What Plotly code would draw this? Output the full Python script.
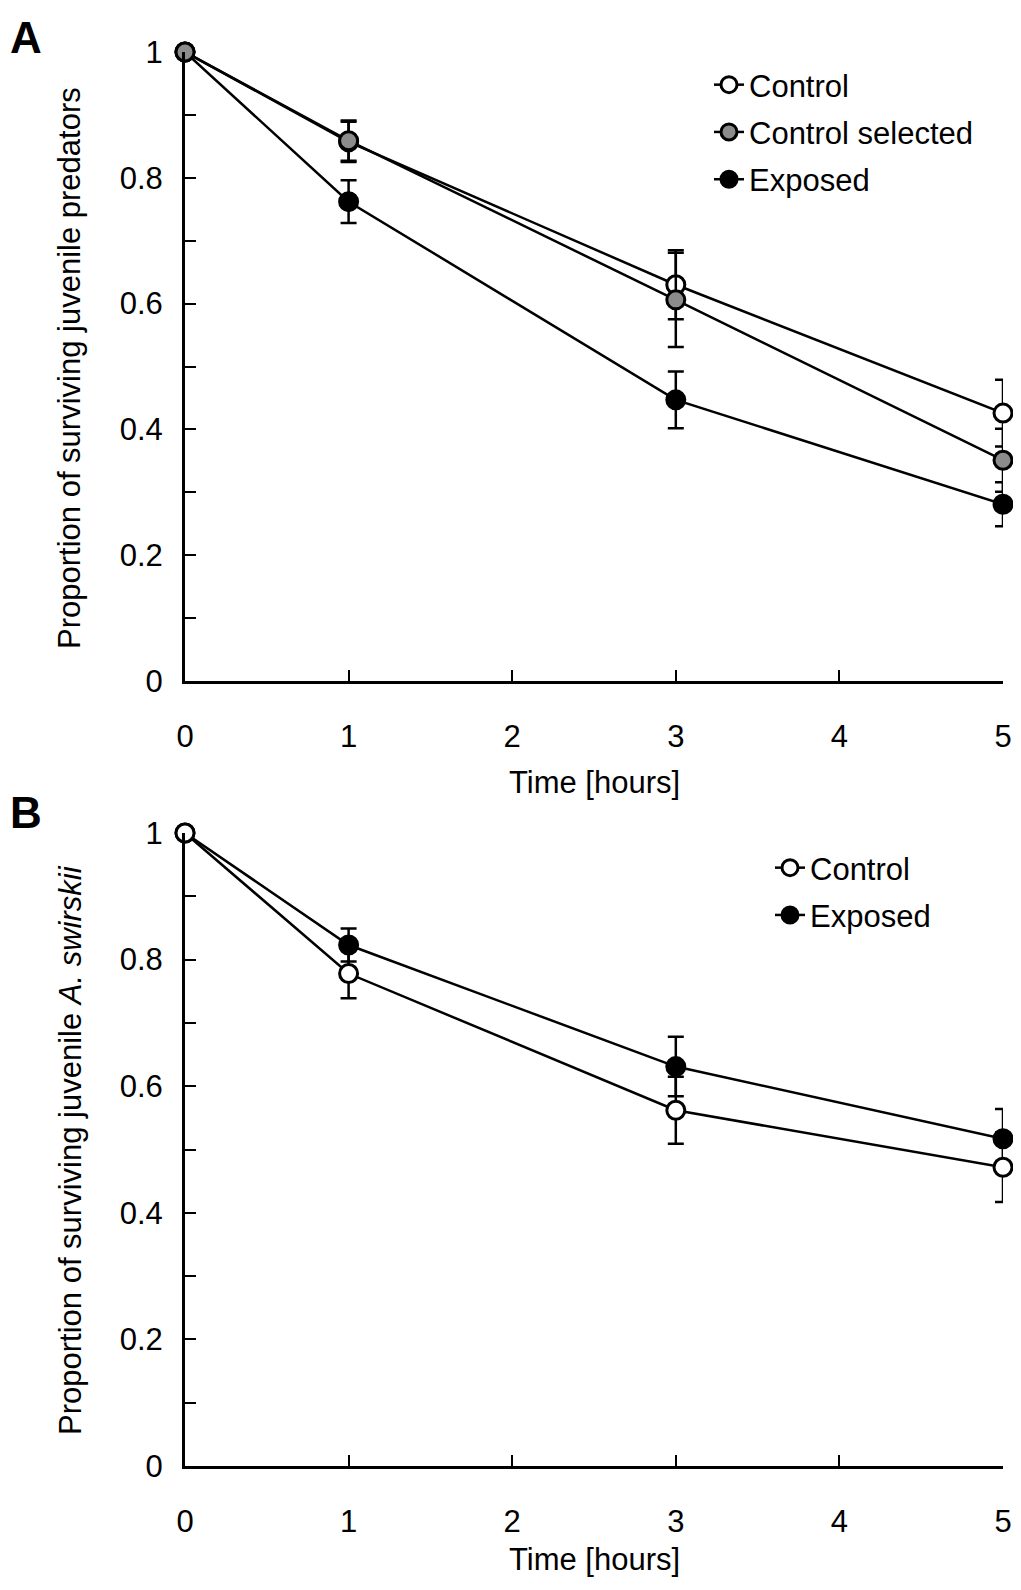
import plotly.graph_objects as go

# time points (hours)
hours = [0, 1, 3, 5]

# panel A: juvenile predators
a_control = [1.0, 0.857, 0.630, 0.426]
a_control_err = [0, 0.032, 0.055, 0.053]
a_selected = [1.0, 0.859, 0.606, 0.351]
a_selected_err = [0, 0.032, 0.075, 0.050]
a_exposed = [1.0, 0.762, 0.447, 0.281]
a_exposed_err = [0, 0.034, 0.045, 0.035]

# panel B: juvenile A. swirskii
b_control = [1.0, 0.778, 0.562, 0.472]
b_control_err = [0, 0.039, 0.053, 0.055]
b_exposed = [1.0, 0.823, 0.631, 0.517]
b_exposed_err = [0, 0.026, 0.047, 0.047]

FONT = "Liberation Sans, Arial, Helvetica, sans-serif"
FS = 31
# page has an 8px body margin, so the figure is a bit smaller than the window
OFF = 8
W, H = 1021 - 2 * OFF, 1590 - 2 * OFF


def px(x):
    return (x - OFF) / W


def py(y):
    return 1 - (y - OFF) / H


def series(x, y, err, name, fill, xa, ya, legend, rank):
    return go.Scatter(
        x=x, y=y, name=name, mode="lines+markers",
        line=dict(color="black", width=2.5),
        marker=dict(size=18, color=fill, line=dict(color="black", width=3)),
        error_y=dict(type="data", array=err, color="black", thickness=2.5, width=8),
        xaxis=xa, yaxis=ya, legend=legend, legendrank=rank,
        legendgroup=name + legend, cliponaxis=False,
    )


fig = go.Figure()
fig.add_trace(series(hours, a_control, a_control_err, "Control", "white", "x", "y", "legend", 1))
fig.add_trace(series(hours, a_exposed, a_exposed_err, "Exposed", "black", "x", "y", "legend", 3))
fig.add_trace(series(hours, a_selected, a_selected_err, "Control selected", "#8c8c8c", "x", "y", "legend", 2))
fig.add_trace(series(hours, b_exposed, b_exposed_err, "Exposed", "black", "x2", "y2", "legend2", 2))
fig.add_trace(series(hours, b_control, b_control_err, "Control", "white", "x2", "y2", "legend2", 1))

xdom = [px(185), px(1003)]
ydom_a = [py(681), py(52)]
ydom_b = [py(1466), py(833)]

xax = dict(range=[0, 5], dtick=1, showline=True, linewidth=3, linecolor="black",
           ticks="inside", ticklen=11, tickwidth=2, tickcolor="black",
           showgrid=False, zeroline=False, ticklabelstandoff=26, automargin=False,
           tickfont=dict(size=FS, color="black"), domain=xdom)
yax = dict(range=[0, 1], tickvals=[0, 0.2, 0.4, 0.6, 0.8, 1], ticktext=["0", "0.2", "0.4", "0.6", "0.8", "1"],
           showline=True, linewidth=3, linecolor="black",
           ticks="inside", ticklen=11, tickwidth=2, tickcolor="black",
           minor=dict(dtick=0.1, ticks="inside", ticklen=11, tickwidth=2, tickcolor="black"),
           showgrid=False, zeroline=False, ticklabelstandoff=13, automargin=False,
           tickfont=dict(size=FS, color="black"))

leg = dict(xanchor="left", yanchor="top", bgcolor="rgba(0,0,0,0)", tracegroupgap=4,
           font=dict(size=FS, color="black", family=FONT), traceorder="grouped")


def label(text, x, y, size=FS, angle=0):
    return dict(text=text, x=px(x), y=py(y), xref="paper", yref="paper",
                xanchor="center", yanchor="middle", textangle=angle,
                showarrow=False, font=dict(size=size))


fig.update_layout(
    width=W, height=H,
    margin=dict(l=0, r=0, t=0, b=0, autoexpand=False),
    plot_bgcolor="white", paper_bgcolor="white",
    font=dict(family=FONT, size=FS, color="black"),
    xaxis=dict(xax, anchor="y"),
    yaxis=dict(yax, domain=ydom_a, anchor="x"),
    xaxis2=dict(xax, anchor="y2"),
    yaxis2=dict(yax, domain=ydom_b, anchor="x2"),
    legend=dict(leg, x=px(709), y=py(58)),
    legend2=dict(leg, x=px(770), y=py(841)),
    showlegend=True,
    annotations=[
        label("<b>A</b>", 26, 37, size=44),
        label("<b>B</b>", 26, 812, size=44),
        label("Time [hours]", 594, 782),
        label("Time [hours]", 594, 1559),
        label("Proportion of surviving juvenile predators", 70, 368, angle=-90),
        label("Proportion of surviving juvenile <i>A. swirskii</i>", 70, 1150, angle=-90),
    ],
)

fig.write_html("out.html")
